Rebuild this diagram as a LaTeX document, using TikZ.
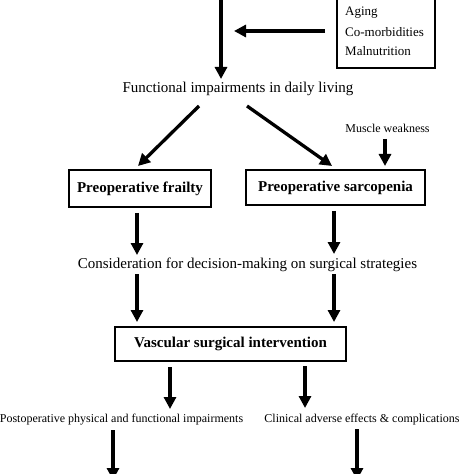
\documentclass[tikz,border=0pt]{standalone}
\usepackage{fontspec}
\setmainfont{Liberation Serif}
\usetikzlibrary{arrows.meta}
\begin{document}
\begin{tikzpicture}[x=1bp,y=-1bp,
  arr/.style={line width=3.3bp, -{Triangle[width=12bp,length=12bp]}},
  box/.style={draw, line width=2bp, font=\bfseries\fontsize{15bp}{18bp}\selectfont, inner sep=0pt},
  lbl/.style={font=\fontsize{15bp}{18bp}\selectfont, inner sep=1bp},
  mid/.style={font=\fontsize{13bp}{15bp}\selectfont, inner sep=0pt, anchor=west},
  small/.style={font=\fontsize{12bp}{14bp}\selectfont, inner sep=1bp}]
\useasboundingbox (0,0) rectangle (474,474);
\clip (0,0) rectangle (474,474);
\fill[white] (0,0) rectangle (474,474);

% risk factor box (cropped at the top)
\node[draw, line width=2bp, minimum width=98bp, minimum height=100bp, inner sep=0pt, anchor=south west] (risk) at (336,69) {};
\node[mid] (aging) at (345,12.5) {Aging};
\node[mid] (comorb) at (345,32.5) {Co-morbidities};
\node[mid] (maln) at (345,51.5) {Malnutrition};

% labels and boxes
\node[lbl] (fia) at (238,89) {Functional impairments in daily living};
\node[small] (mw) at (387.5,128) {Muscle weakness};
\node[box, minimum width=142bp, minimum height=37bp] (frail) at (140,188.5) {Preoperative frailty};
\node[box, minimum width=179bp, minimum height=35bp] (sarc) at (335.5,187.5) {Preoperative sarcopenia};
\node[lbl] (cons) at (247.5,265) {Consideration for decision-making on surgical strategies};
\node[box, minimum width=231bp, minimum height=34bp] (vasc) at (230.5,344) {Vascular surgical intervention\hspace{8bp}};
\node[small] (post) at (121.5,420) {Postoperative physical and functional impairments};
\node[small] (clin) at (362,420) {Clinical adverse effects \& complications};

% connector end points
\coordinate (topin) at (221,-8);
\coordinate (topend) at (221,79);
\coordinate (hstart) at (325,31);
\coordinate (hend) at (234,31);
\coordinate (dls) at (199,106);
\coordinate (dle) at (138,166);
\coordinate (drs) at (247,106);
\coordinate (dre) at (332,166);
\coordinate (mws) at (385,139);
\coordinate (mwe) at (385,166);
\coordinate (fs) at (137,213);
\coordinate (fe) at (137,255);
\coordinate (ss) at (334,211);
\coordinate (se) at (334,254);
\coordinate (cls) at (137,274);
\coordinate (cle) at (137,322);
\coordinate (crs) at (334,274);
\coordinate (cre) at (334,322);
\coordinate (vls) at (170,367);
\coordinate (vle) at (170,409);
\coordinate (vrs) at (305,366);
\coordinate (vre) at (305,408);
\coordinate (pls) at (113,430);
\coordinate (ple) at (113,480);
\coordinate (prs) at (357,429);
\coordinate (pre) at (357,480);

% connectors
\draw[arr] (topin) -- (topend);
\draw[arr] (hstart) -- (hend);
\draw[arr] (dls) -- (dle);
\draw[arr] (drs) -- (dre);
\draw[arr] (mws) -- (mwe);
\draw[arr] (fs) -- (fe);
\draw[arr] (ss) -- (se);
\draw[arr] (cls) -- (cle);
\draw[arr] (crs) -- (cre);
\draw[arr] (vls) -- (vle);
\draw[arr] (vrs) -- (vre);
\draw[arr] (pls) -- (ple);
\draw[arr] (prs) -- (pre);
\end{tikzpicture}
\end{document}
